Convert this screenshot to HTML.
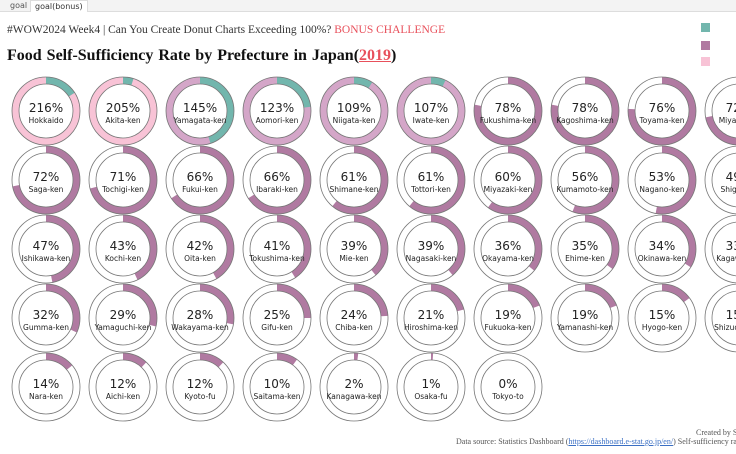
<!DOCTYPE html>
<html><head><meta charset="utf-8"><style>
html,body{margin:0;width:736px;height:454px;overflow:hidden;background:#fff}
#frame{position:relative;width:736px;height:454px;overflow:hidden;font-family:"Liberation Serif",serif}
.tabs{position:absolute;left:0;top:0;width:736px;height:11px;background:#f3f3f3;border-bottom:1px solid #ddd}
.tab{position:absolute;top:0;height:11px;font:8px "DejaVu Sans",sans-serif;color:#555;line-height:11px;padding:0 4px}
</style></head><body>
<div id="frame">
<div class="tabs">
<div class="tab" style="left:6px">goal</div>
<div class="tab" style="left:30px;background:#fff;border:1px solid #ddd;border-bottom:none;color:#333">goal(bonus)</div>
</div>
<div style="position:absolute;left:7px;top:24px;font-size:11.5px;color:#333;white-space:nowrap">#WOW2024 Week4 | Can You Create Donut Charts Exceeding 100%? <span style="color:#e8505b">BONUS CHALLENGE</span></div>
<div style="position:absolute;left:7px;top:47px;font-size:16px;font-weight:bold;color:#111;white-space:nowrap;word-spacing:1px">Food Self-Sufficiency Rate by Prefecture in Japan(<span style="color:#e8505b;text-decoration:underline">2019</span>)</div>
<div style="position:absolute;left:701px;top:23px;width:9px;height:9px;background:#72b6ad"></div>
<div style="position:absolute;left:701px;top:41px;width:9px;height:9px;background:#b07aa1"></div>
<div style="position:absolute;left:701px;top:57px;width:9px;height:9px;background:#f8c3d6"></div>
<svg id="chart" width="736" height="454" style="position:absolute;left:0;top:0"></svg>
<div style="position:absolute;left:696px;top:428px;font-size:8px;color:#555;white-space:nowrap">Created by Su</div>
<div style="position:absolute;left:456px;top:437px;font-size:8px;color:#555;white-space:nowrap">Data source: Statistics Dashboard (<span style="color:#3a6fc4;text-decoration:underline">https://dashboard.e-stat.go.jp/en/</span>) Self-sufficiency ratio for food</div>
</div>
<script>
const prefectures=["Hokkaido","Akita-ken","Yamagata-ken","Aomori-ken","Niigata-ken","Iwate-ken","Fukushima-ken","Kagoshima-ken","Toyama-ken","Miyagi-ken",
"Saga-ken","Tochigi-ken","Fukui-ken","Ibaraki-ken","Shimane-ken","Tottori-ken","Miyazaki-ken","Kumamoto-ken","Nagano-ken","Shiga-ken",
"Ishikawa-ken","Kochi-ken","Oita-ken","Tokushima-ken","Mie-ken","Nagasaki-ken","Okayama-ken","Ehime-ken","Okinawa-ken","Kagawa-ken",
"Gumma-ken","Yamaguchi-ken","Wakayama-ken","Gifu-ken","Chiba-ken","Hiroshima-ken","Fukuoka-ken","Yamanashi-ken","Hyogo-ken","Shizuoka-ken",
"Nara-ken","Aichi-ken","Kyoto-fu","Saitama-ken","Kanagawa-ken","Osaka-fu","Tokyo-to"];
const rates=[216,205,145,123,109,107,78,78,76,72,
72,71,66,66,61,61,60,56,53,49,
47,43,42,41,39,39,36,35,34,33,
32,29,28,25,24,21,19,19,15,15,
14,12,12,10,2,1,0];
const svg=document.getElementById('chart');
const NS='http://www.w3.org/2000/svg';
const cols=10,x0=46,y0=111,dx=77,dy=69,R=34,r=27;
function pt(cx,cy,rad,f){const a=f*2*Math.PI;return [cx+rad*Math.sin(a),cy-rad*Math.cos(a)];}
function arc(cx,cy,f0,f1){
  if(f1-f0>=0.9999){f1=f0+0.9999;}
  const large=(f1-f0)>0.5?1:0;
  const a=pt(cx,cy,R,f0),b=pt(cx,cy,R,f1),c=pt(cx,cy,r,f1),d=pt(cx,cy,r,f0);
  return `M${a[0]},${a[1]}A${R},${R} 0 ${large} 1 ${b[0]},${b[1]}L${c[0]},${c[1]}A${r},${r} 0 ${large} 0 ${d[0]},${d[1]}Z`;
}
function addPath(d,fill,name){const p=document.createElementNS(NS,'path');p.setAttribute('d',d);p.setAttribute('fill',fill);


svg.appendChild(p);}
function addCircle(cx,cy,rad,name){const c=document.createElementNS(NS,'circle');c.setAttribute('cx',cx);c.setAttribute('cy',cy);c.setAttribute('r',rad);c.setAttribute('fill','none');c.setAttribute('stroke','#777');c.setAttribute('stroke-width','0.8');


svg.appendChild(c);}
function addText(x,y,s,size,name){const t=document.createElementNS(NS,'text');t.setAttribute('x',x);t.setAttribute('y',y);t.setAttribute('text-anchor','middle');t.setAttribute('font-family','DejaVu Sans, sans-serif');t.setAttribute('font-size',size);t.setAttribute('fill','#222');t.textContent=s;


svg.appendChild(t);}
prefectures.forEach((name,i)=>{
  const cx=x0+(i%cols)*dx, cy=y0+Math.floor(i/cols)*dy, v=rates[i];
  const slug=name.toLowerCase();
  if(v>=200){
    addPath(arc(cx,cy,0,1),'#f8c3d6','donut-base-'+slug);
    addPath(arc(cx,cy,0,(v-200)/100),'#72b6ad','donut-excess-'+slug);
  } else if(v>=100){
    addPath(arc(cx,cy,0,1),'#d4a6c8','donut-base-'+slug);
    if(v>100) addPath(arc(cx,cy,0,(v-100)/100),'#72b6ad','donut-excess-'+slug);
  } else if(v>0){
    addPath(arc(cx,cy,0,v/100),'#b07aa1','donut-value-'+slug);
  }
  addCircle(cx,cy,R,'donut-outer-'+slug);
  addCircle(cx,cy,r,'donut-inner-'+slug);
  addText(cx,cy+1,v+'%',12,'rate-label-'+slug);
  addText(cx,cy+12,name,7.5,'name-label-'+slug);
});
</script>
</body></html>
